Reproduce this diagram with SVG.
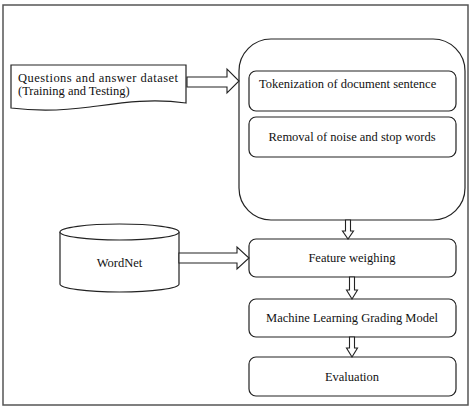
<svg xmlns="http://www.w3.org/2000/svg" width="474" height="410" viewBox="0 0 474 410">
<style>
.t{font-family:'Liberation Serif',serif;font-size:12.5px;fill:#111}
.b{fill:#fff;stroke:#222;stroke-width:1.2}
.a{fill:#fff;stroke:#222;stroke-width:1.1;stroke-linejoin:miter}
</style>
<rect x="0" y="0" width="474" height="410" fill="#fff"/>
<rect x="3" y="5" width="465" height="400" fill="none" stroke="#555" stroke-width="1.5"/>
<g id="preprocessing">
<rect class="b" x="239" y="39" width="226" height="181" rx="32"/>
</g>
<g id="doc">
<path class="b" d="M11,65 H186 V103 C150,98 120,103 90,107 C60,111 35,111 11,108 Z"/>
<text class="t" font-family="Liberation Serif" x="18" y="82" textLength="160" lengthAdjust="spacing">Questions and answer dataset</text>
<text class="t" font-family="Liberation Serif" x="18" y="95">(Training and Testing)</text>
</g>
<g id="tokenization">
<rect class="b" x="249" y="71" width="207" height="40" rx="7"/>
<text class="t" font-family="Liberation Serif" x="259" y="88">Tokenization of document sentence</text>
</g>
<g id="removal">
<rect class="b" x="249" y="117" width="207" height="40" rx="7"/>
<text class="t" font-family="Liberation Serif" x="352" y="141" text-anchor="middle">Removal of noise and stop words</text>
</g>
<g id="wordnet">
<path class="b" d="M60,232 V284 A59.5,8 0 0 0 179,284 V232"/>
<ellipse class="b" cx="119.5" cy="232" rx="59.5" ry="8"/>
<text class="t" font-family="Liberation Serif" x="119.5" y="267" text-anchor="middle">WordNet</text>
</g>
<g id="feature">
<rect class="b" x="249" y="239" width="207" height="38" rx="7"/>
<text class="t" font-family="Liberation Serif" x="352" y="262" text-anchor="middle">Feature weighing</text>
</g>
<g id="ml">
<rect class="b" x="249" y="299" width="207" height="38" rx="7"/>
<text class="t" font-family="Liberation Serif" x="352" y="322" text-anchor="middle">Machine Learning Grading Model</text>
</g>
<g id="evaluation">
<rect class="b" x="249" y="357" width="207" height="39" rx="7"/>
<text class="t" font-family="Liberation Serif" x="352" y="381" text-anchor="middle">Evaluation</text>
</g>
<g id="connectors">
<path class="a" d="M187,77 H227 V69 L239,81 L227,93 V87 H187 Z"/>
<path class="a" d="M179,253 H237 V247 L249,258 L237,269 V263 H179 Z"/>
<path class="a" d="M345.5,220 H350.5 V231 H353.5 L348,239 L342.5,231 H345.5 Z"/>
<path class="a" d="M349.5,277 H354.5 V290 H357.5 L352,299 L346.5,290 H349.5 Z"/>
<path class="a" d="M349.5,337 H354.5 V348 H357.5 L352,357 L346.5,348 H349.5 Z"/>
</g>
</svg>
